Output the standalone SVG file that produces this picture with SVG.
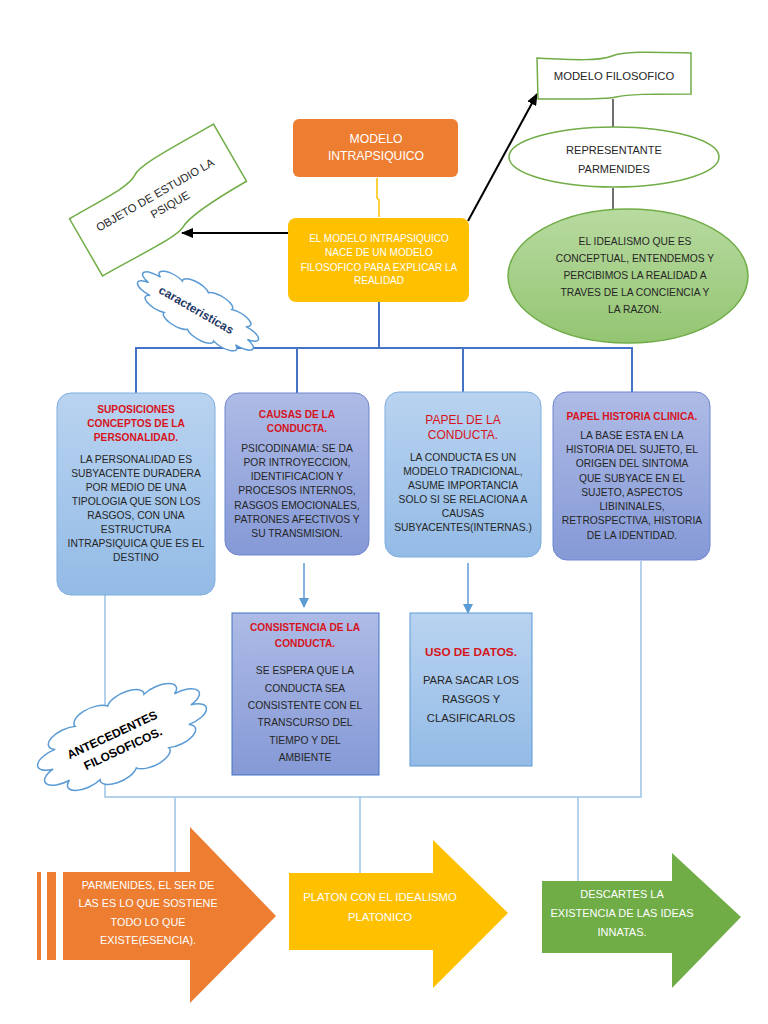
<svg xmlns="http://www.w3.org/2000/svg" width="768" height="1024" viewBox="0 0 768 1024">
<style>
text{font-family:"Liberation Sans",Arial,sans-serif;text-anchor:middle}
.w{fill:#ffffff}
.d{fill:#262626;font-size:10.3px}
.t{fill:#D7141C;font-size:10.2px;font-weight:bold}
.tn{fill:#D7141C;font-size:12px}
.lb{stroke:#7FAEDD;stroke-width:1}
.pw{stroke:#6F86CF;stroke-width:1}
.tree{fill:none;stroke:#4472C4;stroke-width:2}
.thin{fill:none;stroke:#9DC3E6;stroke-width:1.5}
.blk{fill:none;stroke:#000;stroke-width:2}
.ban{fill:#fff;stroke:#70AD47;stroke-width:1.5}
.cloud{fill:#fff;stroke:#5B9BD5;stroke-width:1.5}
</style>
<defs>
<linearGradient id="gLb" x1="0" y1="0" x2="0" y2="1"><stop offset="0" stop-color="#B9D3F0"/><stop offset="1" stop-color="#93BBE6"/></linearGradient>
<linearGradient id="gPw" x1="0" y1="0" x2="0" y2="1"><stop offset="0" stop-color="#AEBBE6"/><stop offset="1" stop-color="#8599D6"/></linearGradient>
<linearGradient id="gGr" x1="0" y1="0" x2="0" y2="1"><stop offset="0" stop-color="#B8DAA0"/><stop offset="1" stop-color="#93C572"/></linearGradient>
<marker id="mBlk" markerUnits="userSpaceOnUse" markerWidth="12" markerHeight="10" refX="11" refY="5" orient="auto"><path d="M0,0 L12,5 L0,10 z" fill="#000"/></marker>
<marker id="mBlu" markerUnits="userSpaceOnUse" markerWidth="10" markerHeight="10" refX="9" refY="5" orient="auto"><path d="M0,0 L10,5 L0,10 z" fill="#5B9BD5"/></marker>
<path id="cloudShape" d="M1,0 A0.26,0.26 0 0 1 0.866,0.5 A0.26,0.26 0 0 1 0.5,0.866 A0.26,0.26 0 0 1 0,1 A0.26,0.26 0 0 1 -0.5,0.866 A0.26,0.26 0 0 1 -0.866,0.5 A0.26,0.26 0 0 1 -1,0 A0.26,0.26 0 0 1 -0.866,-0.5 A0.26,0.26 0 0 1 -0.5,-0.866 A0.26,0.26 0 0 1 0,-1 A0.26,0.26 0 0 1 0.5,-0.866 A0.26,0.26 0 0 1 0.866,-0.5 A0.26,0.26 0 0 1 1,0 Z" vector-effect="non-scaling-stroke"/>
</defs>
<rect width="768" height="1024" fill="#fff"/>

<g id="connectors">
<path d="M377,178 V198 L379,200 V217" fill="none" stroke="#FFC000" stroke-width="1.5"/>
<path class="tree" d="M379,302 V348 M136,348 H632 M136,347 V393 M297,347 V393 M463,347 V392 M632,347 V392"/>
<path class="thin" d="M105,595 V797 H641 V561 M175,797 V872 M360,797 V873 M578,797 V881"/>
<path class="blk" d="M288,233 H182" marker-end="url(#mBlk)"/>
<path class="blk" d="M468,221 L537,94" marker-end="url(#mBlk)"/>
<path d="M613,99 V128 M613,188 V210" stroke="#404040" stroke-width="1.5"/>
<path d="M304,563 V607" stroke="#5B9BD5" stroke-width="1.5" marker-end="url(#mBlu)"/>
<path d="M468,563 V613" stroke="#5B9BD5" stroke-width="1.5" marker-end="url(#mBlu)"/>
</g>

<g id="modelo-intrapsiquico">
<rect x="293" y="119" width="165" height="58" rx="6" fill="#ED7D31"/>
<text class="w" x="376" y="143" font-size="12.2">MODELO</text>
<text class="w" x="376" y="160" font-size="12.2">INTRAPSIQUICO</text>
</g>

<g id="modelo-nace">
<rect x="288" y="218" width="181" height="84" rx="8" fill="#FFC000"/>
<text class="w" x="379" y="242" font-size="10">EL MODELO INTRAPSIQUICO</text>
<text class="w" x="379" y="256" font-size="10">NACE DE UN MODELO</text>
<text class="w" x="379" y="271" font-size="10">FILOSOFICO PARA EXPLICAR LA</text>
<text class="w" x="379" y="284" font-size="10">REALIDAD</text>
</g>

<g id="objeto-estudio" transform="translate(158,200) rotate(-30)">
<path class="ban" d="M-86,-28 C-45,-28 -18,-26 -8,-33 C2,-40 40,-38 86,-38 L86,28 C45,28 18,30 8,36 C-2,42 -45,38 -86,38 Z"/>
<text x="0" y="-2" fill="#262626" font-size="11.3">OBJETO DE ESTUDIO LA</text>
<text x="8" y="14" fill="#262626" font-size="11.3">PSIQUE</text>
</g>

<g id="modelo-filosofico">
<path class="ban" d="M537,58 C575,60 600,61 612,56 C624,51 650,52 691,53 L691,94 C650,94 628,94 616,97 C604,100 575,99 538,99 Z"/>
<text x="614" y="80" fill="#262626" font-size="11.3">MODELO FILOSOFICO</text>
</g>

<g id="representante">
<ellipse cx="614" cy="157" rx="105" ry="30" fill="#fff" stroke="#70AD47" stroke-width="1.5"/>
<text x="614" y="154" fill="#262626" font-size="11">REPRESENTANTE</text>
<text x="614" y="173" fill="#262626" font-size="11">PARMENIDES</text>
</g>

<g id="idealismo">
<ellipse cx="628" cy="276" rx="120" ry="67" fill="url(#gGr)" stroke="#70AD47" stroke-width="1.5"/>
<text class="d" x="635" y="245">EL IDEALISMO QUE ES</text>
<text class="d" x="635" y="262">CONCEPTUAL, ENTENDEMOS Y</text>
<text class="d" x="635" y="279">PERCIBIMOS LA REALIDAD A</text>
<text class="d" x="635" y="296">TRAVES DE LA CONCIENCIA Y</text>
<text class="d" x="635" y="313">LA RAZON.</text>
</g>

<g id="caracteristicas" transform="translate(198,311) rotate(30)">
<use href="#cloudShape" class="cloud" transform="scale(57,21)"/>
<text x="-2" y="4" fill="#1F3864" font-size="12" font-weight="bold">caracteristicas</text>
</g>

<g id="suposiciones">
<rect x="57" y="393" width="158" height="202" rx="14" fill="url(#gLb)" class="lb"/>
<text class="t" x="136" y="413" font-size="9.8">SUPOSICIONES</text>
<text class="t" x="136" y="427" font-size="9.8">CONCEPTOS DE LA</text>
<text class="t" x="136" y="441" font-size="9.8">PERSONALIDAD.</text>
<text class="d" x="136" y="463">LA PERSONALIDAD ES</text>
<text class="d" x="136" y="477">SUBYACENTE DURADERA</text>
<text class="d" x="136" y="491">POR MEDIO DE UNA</text>
<text class="d" x="136" y="505">TIPOLOGIA QUE SON LOS</text>
<text class="d" x="136" y="519">RASGOS, CON UNA</text>
<text class="d" x="136" y="533">ESTRUCTURA</text>
<text class="d" x="136" y="547">INTRAPSIQUICA QUE ES EL</text>
<text class="d" x="136" y="561">DESTINO</text>
</g>

<g id="causas">
<rect x="225" y="393" width="144" height="162" rx="14" fill="url(#gPw)" class="pw"/>
<text class="t" x="297" y="418">CAUSAS DE LA</text>
<text class="t" x="297" y="432">CONDUCTA.</text>
<text class="d" x="297" y="452">PSICODINAMIA: SE DA</text>
<text class="d" x="297" y="466">POR INTROYECCION,</text>
<text class="d" x="297" y="480">IDENTIFICACION Y</text>
<text class="d" x="297" y="494">PROCESOS INTERNOS,</text>
<text class="d" x="297" y="509">RASGOS EMOCIONALES,</text>
<text class="d" x="297" y="523">PATRONES AFECTIVOS Y</text>
<text class="d" x="297" y="537">SU TRANSMISION.</text>
</g>

<g id="papel-conducta">
<rect x="385" y="392" width="156" height="165" rx="14" fill="url(#gLb)" class="lb"/>
<text class="tn" x="463" y="424">PAPEL DE LA</text>
<text class="tn" x="463" y="439">CONDUCTA.</text>
<text class="d" x="463" y="461">LA CONDUCTA ES UN</text>
<text class="d" x="463" y="475">MODELO TRADICIONAL,</text>
<text class="d" x="463" y="489">ASUME IMPORTANCIA</text>
<text class="d" x="463" y="503">SOLO SI SE RELACIONA A</text>
<text class="d" x="463" y="517">CAUSAS</text>
<text class="d" x="463" y="531">SUBYACENTES(INTERNAS.)</text>
</g>

<g id="papel-historia">
<rect x="553" y="392" width="157" height="168" rx="14" fill="url(#gPw)" class="pw"/>
<text class="t" x="632" y="420">PAPEL HISTORIA CLINICA.</text>
<text class="d" x="632" y="439">LA BASE ESTA EN LA</text>
<text class="d" x="632" y="453">HISTORIA DEL SUJETO, EL</text>
<text class="d" x="632" y="467">ORIGEN DEL SINTOMA</text>
<text class="d" x="632" y="482">QUE SUBYACE EN EL</text>
<text class="d" x="632" y="496">SUJETO, ASPECTOS</text>
<text class="d" x="632" y="510">LIBININALES,</text>
<text class="d" x="632" y="524">RETROSPECTIVA, HISTORIA</text>
<text class="d" x="632" y="539">DE LA IDENTIDAD.</text>
</g>

<g id="consistencia">
<rect x="232" y="613" width="147" height="162" fill="url(#gPw)" stroke="#4472C4" stroke-width="1"/>
<text class="t" x="305" y="631" font-size="9.9">CONSISTENCIA DE LA</text>
<text class="t" x="305" y="647" font-size="9.9">CONDUCTA.</text>
<text class="d" x="305" y="674" font-size="10.8">SE ESPERA QUE LA</text>
<text class="d" x="305" y="692" font-size="10.8">CONDUCTA SEA</text>
<text class="d" x="305" y="709" font-size="10.8">CONSISTENTE CON EL</text>
<text class="d" x="305" y="726" font-size="10.8">TRANSCURSO DEL</text>
<text class="d" x="305" y="744" font-size="10.8">TIEMPO Y DEL</text>
<text class="d" x="305" y="761" font-size="10.8">AMBIENTE</text>
</g>

<g id="uso-datos">
<rect x="410" y="613" width="122" height="153" fill="url(#gLb)" stroke="#5B9BD5" stroke-width="1"/>
<text x="471" y="656" fill="#D7141C" font-size="11.8" font-weight="bold">USO DE DATOS.</text>
<text x="471" y="684" fill="#262626" font-size="11.2">PARA SACAR LOS</text>
<text x="471" y="703" fill="#262626" font-size="11.2">RASGOS Y</text>
<text x="471" y="722" fill="#262626" font-size="11.2">CLASIFICARLOS</text>
</g>

<g id="antecedentes" transform="translate(122,737) rotate(-25)">
<use href="#cloudShape" class="cloud" transform="scale(76,34)"/>
<text x="-8" y="-2" fill="#000" font-size="12" font-weight="bold">ANTECEDENTES</text>
<text x="-4" y="15" fill="#000" font-size="12" font-weight="bold">FILOSOFICOS.</text>
</g>

<g id="parmenides">
<rect x="37" y="872" width="4" height="88" fill="#ED7D31"/>
<rect x="47" y="872" width="9" height="88" fill="#ED7D31"/>
<polygon points="63,872 190,872 190,827 276,916 190,1003 190,960 63,960" fill="#ED7D31"/>
<text class="w" x="148" y="889" font-size="10.8">PARMENIDES, EL SER DE</text>
<text class="w" x="148" y="907" font-size="10.8">LAS ES LO QUE SOSTIENE</text>
<text class="w" x="148" y="926" font-size="10.8">TODO LO QUE</text>
<text class="w" x="148" y="944" font-size="10.8">EXISTE(ESENCIA).</text>
</g>

<g id="platon">
<polygon points="289,873 433,873 433,840 508,913 433,988 433,950 289,950" fill="#FFC000"/>
<text class="w" x="380" y="901" font-size="11.3">PLATON CON EL IDEALISMO</text>
<text class="w" x="380" y="921" font-size="11.3">PLATONICO</text>
</g>

<g id="descartes">
<polygon points="542,881 672,881 672,853 741,917 672,988 672,953 542,953" fill="#70AD47"/>
<text class="w" x="622" y="898" font-size="11">DESCARTES LA</text>
<text class="w" x="622" y="917" font-size="11">EXISTENCIA DE LAS IDEAS</text>
<text class="w" x="622" y="936" font-size="11">INNATAS.</text>
</g>
</svg>
